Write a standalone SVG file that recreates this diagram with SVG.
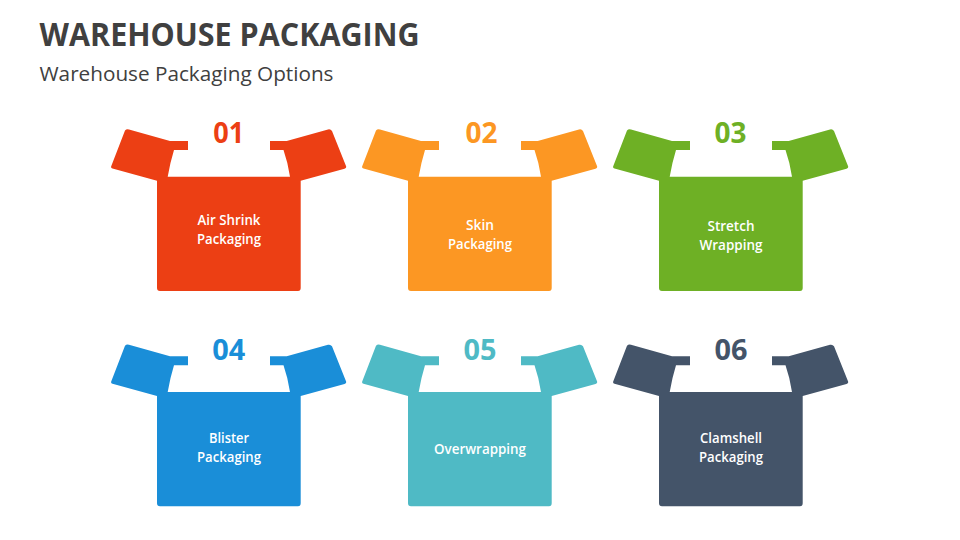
<svg xmlns="http://www.w3.org/2000/svg" width="960" height="540" viewBox="0 0 960 540">
<style>
text{font-family:"Open Sans","Noto Sans","Liberation Sans",sans-serif}
.t{font-size:32.500px;font-weight:700;fill:#404040}
.s{font-size:20.500px;fill:#404040}
.n{font-size:28px;font-weight:700;text-anchor:middle}
.l{font-size:14px;font-weight:600;fill:#fff;text-anchor:middle}
</style>
<defs>
<path id="box" d="M125 130.500Q126.500 128.800 129 129.500L170 141H188V150H174Q170 163 167.700 176.700H290Q288 163 283.500 150H270V141H286.700L328 129.500Q330.500 128.800 332 131L346 166Q346.800 168 344.500 168.800L300.700 180.700V288Q300.700 291 298 291H160Q157 291 157 288V180.700L112.500 168.500Q110.500 168 111.300 166Z"/>
</defs>
<text class="t" x="39.500" y="45.500" textLength="380" lengthAdjust="spacingAndGlyphs">WAREHOUSE PACKAGING</text>
<text class="s" x="39.500" y="80.500" textLength="294" lengthAdjust="spacingAndGlyphs">Warehouse Packaging Options</text>
<g id="node-01" fill="#EC3F14"><use href="#box"/><text class="n" x="228.700" y="142.500" textLength="31" lengthAdjust="spacingAndGlyphs">01</text><text class="l" x="229" y="224.500" textLength="63" lengthAdjust="spacingAndGlyphs">Air Shrink</text><text class="l" x="229" y="243.500" textLength="64" lengthAdjust="spacingAndGlyphs">Packaging</text></g>
<g id="node-02" fill="#FC9723"><use href="#box" x="251"/><text class="n" x="481.500" y="142.500" textLength="32" lengthAdjust="spacingAndGlyphs">02</text><text class="l" x="480" y="229.500" textLength="28" lengthAdjust="spacingAndGlyphs">Skin</text><text class="l" x="480" y="248.500" textLength="64" lengthAdjust="spacingAndGlyphs">Packaging</text></g>
<g id="node-03" fill="#6EB025"><use href="#box" x="502"/><text class="n" x="730.500" y="142.500" textLength="32" lengthAdjust="spacingAndGlyphs">03</text><text class="l" x="731" y="230.500" textLength="47" lengthAdjust="spacingAndGlyphs">Stretch</text><text class="l" x="731" y="249.500" textLength="63" lengthAdjust="spacingAndGlyphs">Wrapping</text></g>
<g id="node-04" fill="#1A8ED8"><use href="#box" y="215.300"/><text class="n" x="228.700" y="359.500" textLength="33" lengthAdjust="spacingAndGlyphs">04</text><text class="l" x="229" y="442.500" textLength="40" lengthAdjust="spacingAndGlyphs">Blister</text><text class="l" x="229" y="461.500" textLength="64" lengthAdjust="spacingAndGlyphs">Packaging</text></g>
<g id="node-05" fill="#4FBAC5"><use href="#box" x="251" y="215.300"/><text class="n" x="480" y="359.500" textLength="33" lengthAdjust="spacingAndGlyphs">05</text><text class="l" x="480" y="453.500" textLength="92" lengthAdjust="spacingAndGlyphs">Overwrapping</text></g>
<g id="node-06" fill="#445469"><use href="#box" x="502" y="215.300"/><text class="n" x="731" y="359.500" textLength="33" lengthAdjust="spacingAndGlyphs">06</text><text class="l" x="731" y="442.500" textLength="62" lengthAdjust="spacingAndGlyphs">Clamshell</text><text class="l" x="731" y="461.500" textLength="64" lengthAdjust="spacingAndGlyphs">Packaging</text></g>
<g id="connectors"/>
</svg>
